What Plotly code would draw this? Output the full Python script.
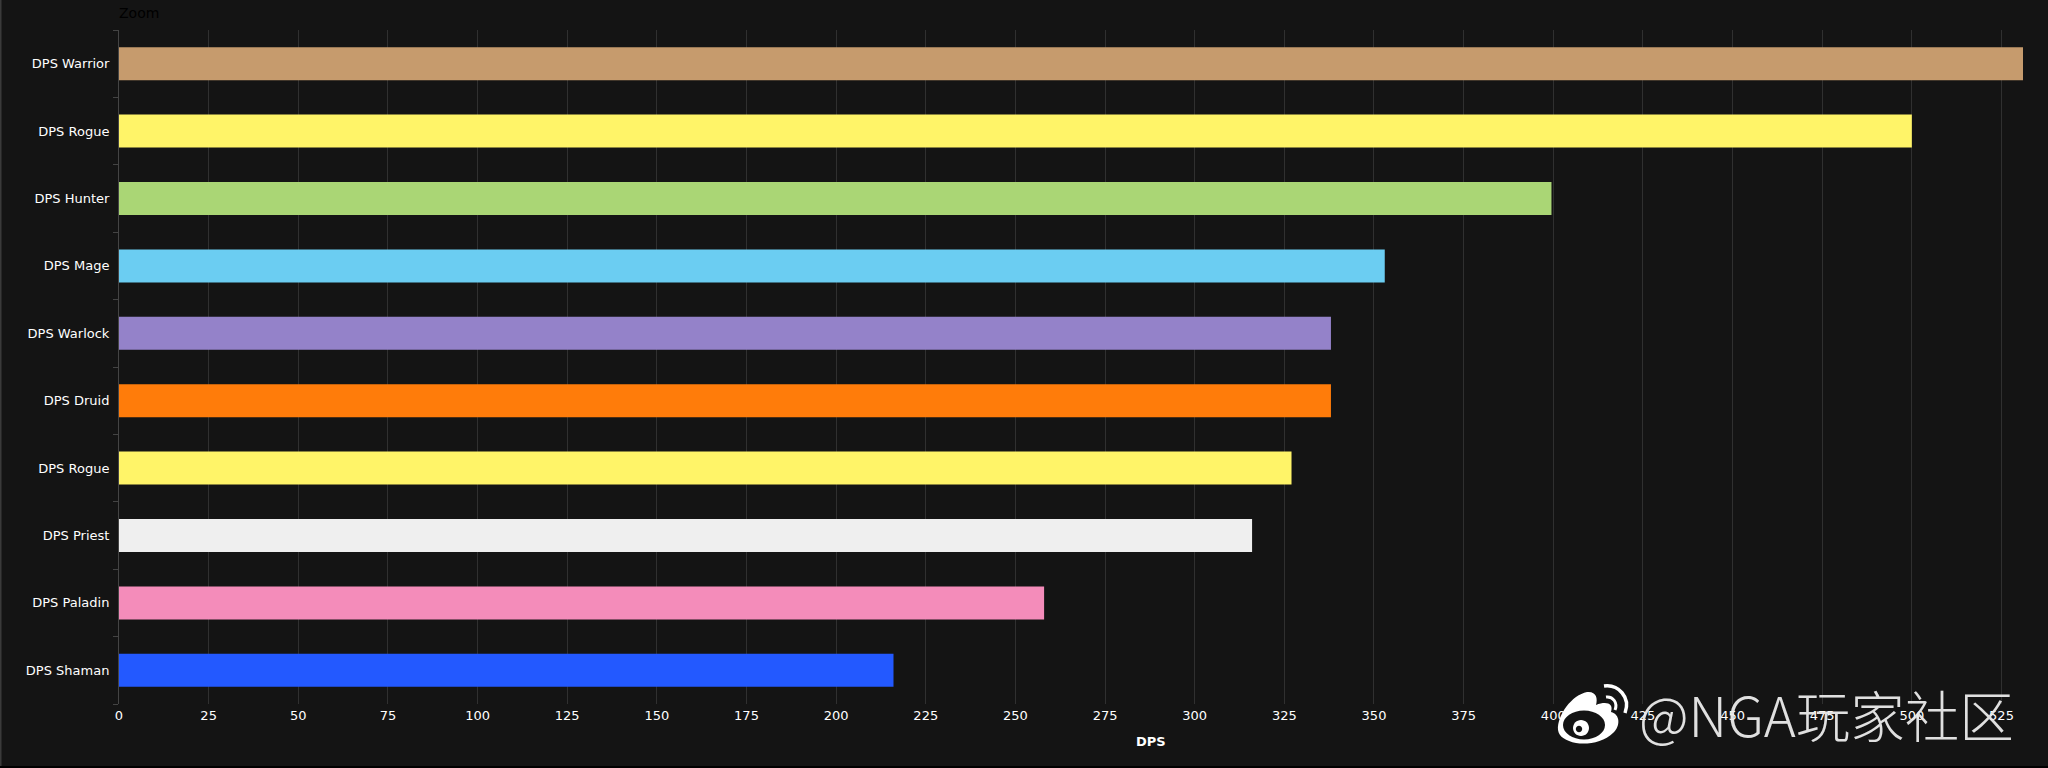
import plotly.graph_objects as go

categories = ["DPS Warrior", "DPS Rogue", "DPS Hunter", "DPS Mage", "DPS Warlock",
              "DPS Druid", "DPS Rogue\u200b", "DPS Priest", "DPS Paladin", "DPS Shaman"]
values = [531, 500, 399.5, 353, 338, 338, 327, 316, 258, 216]
colors = ["#C69B6D", "#FFF468", "#AAD675", "#6BCDF2", "#9482C9",
          "#FF7C0A", "#FFF468", "#EFEFEF", "#F48CBA", "#2359FF"]
x_ticks = list(range(0, 526, 25))

W, H = 2048, 768
L, R, T, B = 119, 25, 30, 64
BG = "#141414"

def px(x):
    return (x - L) / (W - L - R)

def py(y):
    return 1 - (y - T) / (H - T - B)

def path(cmds):
    out = []
    for c in cmds:
        if c[0] == "Z":
            out.append("Z")
        else:
            pts = [f"{px(c[i]):.5f},{py(c[i + 1]):.5f}" for i in range(1, len(c), 2)]
            out.append(c[0] + " ".join(pts))
    return " ".join(out)

def ellipse(cx, cy, rx, ry):
    k = 0.5523
    return path([
        ("M", cx - rx, cy),
        ("C", cx - rx, cy - k * ry, cx - k * rx, cy - ry, cx, cy - ry),
        ("C", cx + k * rx, cy - ry, cx + rx, cy - k * ry, cx + rx, cy),
        ("C", cx + rx, cy + k * ry, cx + k * rx, cy + ry, cx, cy + ry),
        ("C", cx - k * rx, cy + ry, cx - rx, cy + k * ry, cx - rx, cy),
        ("Z",),
    ])

def shp(d, fill=None, line=None, width=0):
    s = dict(type="path", path=d, xref="paper", yref="paper", layer="above",
             line=dict(width=width, color=line or "rgba(0,0,0,0)"))
    if fill:
        s["fillcolor"] = fill
    return s

blob = path([
    ("M", 1558, 730),
    ("C", 1557, 715, 1572, 695, 1587, 692),
    ("C", 1596, 691, 1598, 698, 1596, 705),
    ("C", 1606, 701, 1614, 703, 1611, 712),
    ("C", 1620, 714, 1621, 726, 1613, 733),
    ("C", 1604, 742, 1588, 745, 1576, 743),
    ("C", 1566, 741, 1559, 737, 1558, 730),
    ("Z",),
])
arc_outer = path([("M", 1604, 686), ("C", 1618, 684, 1631, 697, 1625, 713)])
arc_inner = path([("M", 1606, 697), ("C", 1613, 696, 1618, 703, 1615, 710)])

shapes = [
    shp(blob, fill="white"),
    shp(ellipse(1584, 725, 21, 14.5), fill="#141414"),
    shp(ellipse(1581, 728, 8, 8), fill="white"),
    shp(ellipse(1579, 729, 3.2, 3.2), fill="#141414"),
    shp(arc_outer, line="white", width=3.5),
    shp(arc_inner, line="white", width=3),
    dict(type="rect", xref="paper", yref="paper", layer="above", x0=px(0), x1=px(1.5),
         y0=py(0), y1=py(H), fillcolor="#3a3a3a", line=dict(width=0)),
    dict(type="rect", xref="paper", yref="paper", layer="above", x0=px(0), x1=px(W),
         y0=py(766), y1=py(H), fillcolor="#000000", line=dict(width=0)),
]

fig = go.Figure(go.Bar(
    y=categories, x=values, orientation="h", width=0.49,
    marker=dict(color=colors, line=dict(width=0)),
))

fig.update_layout(
    width=W, height=H, autosize=False,
    margin=dict(l=L, r=R, t=T, b=B, pad=0),
    paper_bgcolor=BG, plot_bgcolor=BG,
    showlegend=False,
    font=dict(family="DejaVu Sans", size=13, color="white"),
    shapes=shapes,
    annotations=[
        dict(text="Zoom", xref="paper", yref="paper", x=px(117), y=py(13),
             xanchor="left", yanchor="middle", showarrow=False,
             font=dict(size=14, color="black")),
        dict(text="<b>DPS</b>", xref="paper", yref="paper", x=px(1151), y=py(741),
             xanchor="center", yanchor="middle", showarrow=False,
             font=dict(size=13, color="white")),
        dict(text="@NGA玩家社区", xref="paper", yref="paper", x=px(1637), y=py(713),
             xanchor="left", yanchor="middle", showarrow=False,
             font=dict(family="Noto Sans CJK SC", size=54.5, color="rgba(235,235,235,0.95)", weight=300)),
    ],
)
fig.update_xaxes(
    range=[0, 531], tickmode="array", tickvals=x_ticks, ticktext=[str(t) for t in x_ticks],
    showgrid=True, gridcolor="#303030", gridwidth=1, zeroline=False, showline=False,
    ticks="", tickfont=dict(size=13, color="white"), ticklabelstandoff=2,
)
fig.update_yaxes(
    categoryorder="array", categoryarray=categories[::-1], type="category",
    tickson="boundaries", ticks="outside", ticklen=5, tickcolor="#444444", tickwidth=1,
    showline=True, linecolor="#444444", linewidth=1, showgrid=False, zeroline=False,
    tickfont=dict(size=13, color="white"), ticklabelstandoff=6,
)
fig.write_html("out.html", config=dict(displayModeBar=False),
               post_script="document.body.style.margin='0';document.body.style.background='#141414';")
